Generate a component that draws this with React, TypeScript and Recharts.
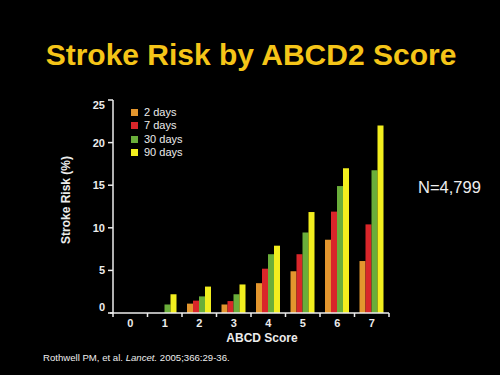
import React from 'react';
import { BarChart, Bar, XAxis, YAxis, Legend, Label } from 'recharts';

const categories = ['0', '1', '2', '3', '4', '5', '6', '7'];
const days2 = [0, 0, 1.1, 1.0, 3.5, 4.9, 8.6, 6.1];
const days7 = [0, 0, 1.45, 1.4, 5.2, 6.9, 11.9, 10.4];
const days30 = [0, 1.0, 1.95, 2.2, 6.9, 9.45, 14.9, 16.75];
const days90 = [0, 2.2, 3.1, 3.35, 7.9, 11.85, 17.0, 22.0];
const yTicks = [0, 5, 10, 15, 20, 25];

const seriesNames = ['2 days', '7 days', '30 days', '90 days'];
const seriesKeys = ['d2', 'd7', 'd30', 'd90'];
const seriesColors = ['#E3962E', '#D9262A', '#6AAE3A', '#F2EE1E'];

const data = categories.map((c, i) => ({
  score: c,
  d2: days2[i],
  d7: days7[i],
  d30: days30[i],
  d90: days90[i],
}));

const FONT = '"Liberation Sans", Arial, sans-serif';
const AXIS = '#ececec';

const XTick = (props: any) => {
  const { x, y, payload, index } = props;
  const half = payload && payload.offset ? payload.offset : 17.25;
  return (
    <g>
      <line x1={x - half} y1={y} x2={x - half} y2={y + 4} stroke={AXIS} strokeWidth={1.5} />
      {index === 0 && (
        <line x1={x - half - 3} y1={y} x2={x - half} y2={y} stroke={AXIS} strokeWidth={1.5} />
      )}
      {index === categories.length - 1 && (
        <line x1={x + half} y1={y} x2={x + half} y2={y + 4} stroke={AXIS} strokeWidth={1.5} />
      )}
      <text x={x} y={y + 10} textAnchor="middle" dominantBaseline="central" fill={AXIS}
        fontFamily={FONT} fontSize={11} fontWeight="bold">
        {payload.value}
      </text>
    </g>
  );
};

const YTick = (props: any) => {
  const { x, y, payload } = props;
  const dy = payload.value === 0 ? -6 : payload.value === 25 ? 5 : 0;
  return (
    <text x={x} y={y + dy} textAnchor="end" dominantBaseline="central" fill={AXIS}
      fontFamily={FONT} fontSize={11} fontWeight="bold">
      {payload.value}
    </text>
  );
};

const LegendContent = () => (
  <div style={{ fontFamily: FONT, fontSize: 11, color: AXIS }}>
    {seriesNames.map((n, i) => (
      <div key={n} style={{ display: 'flex', alignItems: 'center', height: 13.3 }}>
        <span style={{ display: 'inline-block', width: 7, height: 7, background: seriesColors[i], marginRight: 6 }} />
        <span style={{ lineHeight: '13px' }}>{n}</span>
      </div>
    ))}
  </div>
);

export default function App() {
  return (
    <div style={{ position: 'absolute', left: 0, top: 0, width: 500, height: 375, background: '#000', overflow: 'hidden' }}>
      <BarChart width={500} height={375} data={data}
        margin={{ top: 100, right: 111, bottom: 0, left: 0 }}
        barGap={0} barSize={6}>
        <XAxis dataKey="score" height={62} axisLine={{ stroke: AXIS, strokeWidth: 1.5 }}
          tickLine={false} tickSize={0} tickMargin={0} tick={<XTick />} interval={0}>
          <Label content={() => (
            <text x={262} y={342} textAnchor="middle" fill={AXIS} fontFamily={FONT} fontSize={12} fontWeight="bold">
              ABCD Score
            </text>
          )} />
        </XAxis>
        <YAxis width={113} domain={[0, 25]} ticks={yTicks} interval={0}
          axisLine={{ stroke: AXIS, strokeWidth: 1.5 }}
          tickLine={{ stroke: AXIS, strokeWidth: 1.5 }} tickSize={5} tickMargin={3}
          tick={<YTick />}>
          <Label content={() => (
            <text x={66} y={200} transform="rotate(-90 66 200)" textAnchor="middle" dominantBaseline="central"
              fill={AXIS} fontFamily={FONT} fontSize={12} fontWeight="bold">
              Stroke Risk (%)
            </text>
          )} />
        </YAxis>
        <Legend layout="vertical" align="center" verticalAlign="middle"
          wrapperStyle={{ left: 131, top: 106, width: 80, height: 56 }}
          content={<LegendContent />} />
        {seriesKeys.map((k, i) => (
          <Bar key={k} dataKey={k} name={seriesNames[i]} fill={seriesColors[i]} isAnimationActive={false} />
        ))}
      </BarChart>
      <svg width={500} height={375} style={{ position: 'absolute', left: 0, top: 0, pointerEvents: 'none' }}>
        <text x={251} y={65} textAnchor="middle" fill="#F5C518" fontFamily={FONT} fontSize={30} fontWeight="bold">
          Stroke Risk by ABCD2 Score
        </text>
        <text x={418} y={193} fill="#eeeeee" fontFamily={FONT} fontSize={16.5}>
          N=4,799
        </text>
        <text x={43} y={360.5} fill="#eeeeee" fontFamily={FONT} fontSize={9.6}>
          Rothwell PM, et al. <tspan fontStyle="italic">Lancet.</tspan> 2005;366:29-36.
        </text>
      </svg>
    </div>
  );
}
